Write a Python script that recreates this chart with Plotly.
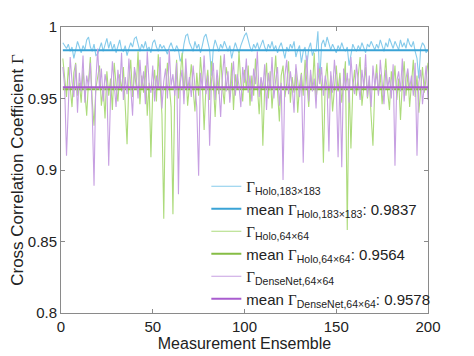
import plotly.graph_objects as go

ensemble = list(range(1, 201))

holo183 = [
    0.989, 0.987, 0.985, 0.988, 0.983, 0.986, 0.978, 0.984, 0.990, 0.986,
    0.982, 0.987, 0.984, 0.991, 0.993, 0.986, 0.983, 0.988, 0.980, 0.981,
    0.985, 0.989, 0.983, 0.987, 0.992, 0.985, 0.990, 0.984, 0.988, 0.982,
    0.986, 0.991, 0.984, 0.983, 0.987, 0.980, 0.985, 0.989, 0.986, 0.992,
    0.993, 0.987, 0.983, 0.988, 0.985, 0.990, 0.984, 0.986, 0.982, 0.989,
    0.991, 0.986, 0.983, 0.988, 0.985, 0.987, 0.984, 0.981, 0.986, 0.989,
    0.985, 0.983, 0.987, 0.984, 0.976, 0.979, 0.988, 0.994, 0.995, 0.989,
    0.986, 0.983, 0.990, 0.985, 0.988, 0.982, 0.987, 0.993, 0.995, 0.990,
    0.984, 0.966, 0.985, 0.991, 0.987, 0.983, 0.988, 0.985, 0.990, 0.986,
    0.983, 0.987, 0.978, 0.984, 0.989, 0.985, 0.982, 0.987, 0.991, 0.994,
    0.996, 0.990, 0.986, 0.983, 0.988, 0.985, 0.989, 0.984, 0.987, 0.991,
    0.986, 0.983, 0.988, 0.985, 0.990, 0.984, 0.987, 0.982, 0.986, 0.989,
    0.984, 0.978, 0.986, 0.983, 0.988, 0.985, 0.990, 0.979, 0.984, 0.987,
    0.975, 0.983, 0.986, 0.973, 0.985, 0.989, 0.980, 0.984, 0.983, 0.997,
    0.962, 0.988, 0.991, 0.986, 0.993, 0.989, 0.984, 0.988, 0.985, 0.982,
    0.987, 0.984, 0.989, 0.985, 0.983, 0.986, 0.973, 0.981, 0.988, 0.985,
    0.983, 0.987, 0.984, 0.989, 0.985, 0.982, 0.988, 0.986, 0.990, 0.987,
    0.984, 0.988, 0.985, 0.991, 0.987, 0.983, 0.989, 0.986, 0.992, 0.988,
    0.985, 0.990, 0.987, 0.984, 0.991, 0.986, 0.989, 0.985, 0.992, 0.988,
    0.986, 0.990, 0.983, 0.978, 0.964, 0.985, 0.989, 0.987, 0.982, 0.984,
]

holo64 = [
    0.978, 0.965, 0.951, 0.972, 0.958, 0.944, 0.968, 0.975, 0.952, 0.961,
    0.947, 0.970, 0.955, 0.938, 0.962, 0.979, 0.949, 0.931, 0.957, 0.966,
    0.973, 0.945, 0.958, 0.936, 0.969, 0.952, 0.964, 0.942, 0.975, 0.960,
    0.948, 0.967, 0.955, 0.972, 0.940, 0.918, 0.963, 0.977, 0.951, 0.969,
    0.958, 0.983, 0.946, 0.966, 0.954, 0.973, 0.938, 0.961, 0.909, 0.957,
    0.970, 0.948, 0.981, 0.962, 0.939, 0.866, 0.955, 0.975, 0.960, 0.944,
    0.869, 0.958, 0.977, 0.950, 0.966, 0.982, 0.953, 0.971, 0.945, 0.963,
    0.974, 0.957, 0.941, 0.968, 0.952, 0.979, 0.962, 0.928, 0.959, 0.970,
    0.949, 0.976, 0.961, 0.937, 0.965, 0.953, 0.980, 0.958, 0.946, 0.972,
    0.964, 0.951, 0.975, 0.942, 0.967, 0.956, 0.983, 0.961, 0.948, 0.970,
    0.957, 0.973, 0.945, 0.966, 0.952, 0.978, 0.960, 0.939, 0.964, 0.917,
    0.958, 0.975, 0.950, 0.969, 0.943, 0.962, 0.980, 0.955, 0.934, 0.966,
    0.973, 0.951, 0.960, 0.976, 0.947, 0.965, 0.954, 0.971, 0.940, 0.959,
    0.968, 0.952, 0.977, 0.961, 0.944, 0.967, 0.956, 0.982, 0.949, 0.963,
    0.971, 0.958, 0.905, 0.962, 0.975, 0.950, 0.966, 0.941, 0.958, 0.973,
    0.955, 0.968, 0.947, 0.961, 0.976, 0.858, 0.964, 0.915, 0.957, 0.970,
    0.952, 0.966, 0.979, 0.945, 0.960, 0.972, 0.950, 0.963, 0.938, 0.917,
    0.958, 0.974, 0.953, 0.967, 0.946, 0.961, 0.978, 0.955, 0.942, 0.969,
    0.957, 0.973, 0.949, 0.964, 0.935, 0.960, 0.976, 0.952, 0.968, 0.944,
    0.962, 0.977, 0.951, 0.966, 0.940, 0.958, 0.972, 0.954, 0.963, 0.975,
]

densenet64 = [
    0.972, 0.958, 0.910, 0.945, 0.979, 0.962, 0.951, 0.974, 0.940, 0.968,
    0.955, 0.980, 0.947, 0.966, 0.958, 0.975, 0.942, 0.889, 0.963, 0.985,
    0.956, 0.971, 0.948, 0.967, 0.959, 0.903, 0.952, 0.976, 0.961, 0.944,
    0.970, 0.957, 0.982, 0.949, 0.965, 0.953, 0.978, 0.960, 0.938, 0.972,
    0.964, 0.950, 0.977, 0.958, 0.969, 0.946, 0.983, 0.961, 0.954, 0.973,
    0.948, 0.966, 0.957, 0.979, 0.943, 0.962, 0.971, 0.950, 0.984, 0.959,
    0.967, 0.952, 0.975, 0.883, 0.961, 0.970, 0.946, 0.978, 0.956, 0.965,
    0.951, 0.973, 0.960, 0.944, 0.896, 0.968, 0.957, 0.980, 0.953, 0.966,
    0.917, 0.962, 0.975, 0.949, 0.970, 0.958, 0.937, 0.966, 0.981, 0.955,
    0.969, 0.947, 0.963, 0.976, 0.952, 0.967, 0.959, 0.944, 0.972, 0.961,
    0.978, 0.954, 0.966, 0.948, 0.971, 0.960, 0.983, 0.951, 0.965, 0.957,
    0.974, 0.942, 0.968, 0.956, 0.979, 0.950, 0.963, 0.972, 0.945, 0.961,
    0.893, 0.966, 0.977, 0.953, 0.969, 0.958, 0.940, 0.974, 0.962, 0.951,
    0.967, 0.905, 0.959, 0.980, 0.948, 0.970, 0.955, 0.964, 0.943, 0.975,
    0.960, 0.972, 0.952, 0.966, 0.958, 0.913, 0.969, 0.954, 0.977, 0.961,
    0.909, 0.964, 0.902, 0.971, 0.956, 0.968, 0.947, 0.979, 0.960, 0.953,
    0.974, 0.962, 0.949, 0.970, 0.958, 0.981, 0.951, 0.966, 0.944, 0.973,
    0.959, 0.968, 0.952, 0.977, 0.963, 0.946, 0.970, 0.957, 0.965, 0.950,
    0.974, 0.903, 0.962, 0.969, 0.955, 0.978, 0.948, 0.964, 0.971, 0.957,
    0.966, 0.952, 0.975, 0.910, 0.961, 0.970, 0.946, 0.958, 0.973, 0.949,
]

mean_holo183 = 0.9837
mean_holo64 = 0.9564
mean_densenet64 = 0.9578

x_ticks = [0, 50, 100, 150, 200]
y_ticks = [0.8, 0.85, 0.9, 0.95, 1.0]
y_tick_labels = ["0.8", "0.85", "0.9", "0.95", "1"]

G = "<span style='font-family:\"Liberation Serif\", \"Times New Roman\", serif'>Γ</span>"

names = [
    G + "<sub>Holo,183×183</sub>",
    "mean " + G + "<sub>Holo,183×183</sub>: " + f"{mean_holo183:.4f}",
    G + "<sub>Holo,64×64</sub>",
    "mean " + G + "<sub>Holo,64×64</sub>: " + f"{mean_holo64:.4f}",
    G + "<sub>DenseNet,64×64</sub>",
    "mean " + G + "<sub>DenseNet,64×64</sub>: " + f"{mean_densenet64:.4f}",
]

data_colors = ["#86cbeb", "#addb7c", "#c7a0e2"]
mean_colors = ["#3aa3d6", "#86bd45", "#a95ccf"]

fig = go.Figure()
series = [holo183, holo64, densenet64]
means = [mean_holo183, mean_holo64, mean_densenet64]
for i in range(3):
    fig.add_trace(go.Scatter(
        x=ensemble, y=series[i], mode="lines", name=names[2 * i],
        line=dict(color=data_colors[i], width=1.1),
    ))
    fig.add_trace(go.Scatter(
        x=ensemble, y=[means[i]] * len(ensemble), mode="lines", name=names[2 * i + 1],
        line=dict(color=mean_colors[i], width=2),
    ))

axis_common = dict(
    showline=True, linecolor="#8a8a8a", linewidth=1, mirror="ticks",
    ticks="inside", ticklen=4, tickcolor="#8a8a8a", showgrid=False, zeroline=False,
    automargin=False,
    tickfont=dict(family="Liberation Sans, Arial, sans-serif", size=15, color="#222"),
)

fig.update_layout(
    width=474, height=356,
    margin=dict(l=53, r=54, t=19, b=51),
    paper_bgcolor="white", plot_bgcolor="white",
    font=dict(family="Liberation Sans, Arial, sans-serif", size=14, color="#222"),
    xaxis=dict(range=[0, 200], tickvals=x_ticks,
               title=dict(text="Measurement Ensemble", font=dict(size=16), standoff=0), **axis_common),
    yaxis=dict(range=[0.8, 1.0], tickvals=y_ticks, ticktext=y_tick_labels,
               title=dict(text="Cross Correlation Coefficient " + G, font=dict(size=17), standoff=2), **axis_common),
    legend=dict(x=0.396, y=0.50, xanchor="left", yanchor="top", bgcolor="rgba(0,0,0,0)",
                font=dict(size=15, color="#222"), tracegroupgap=0, itemwidth=30),
    showlegend=True,
)

fig.write_html("out.html")
